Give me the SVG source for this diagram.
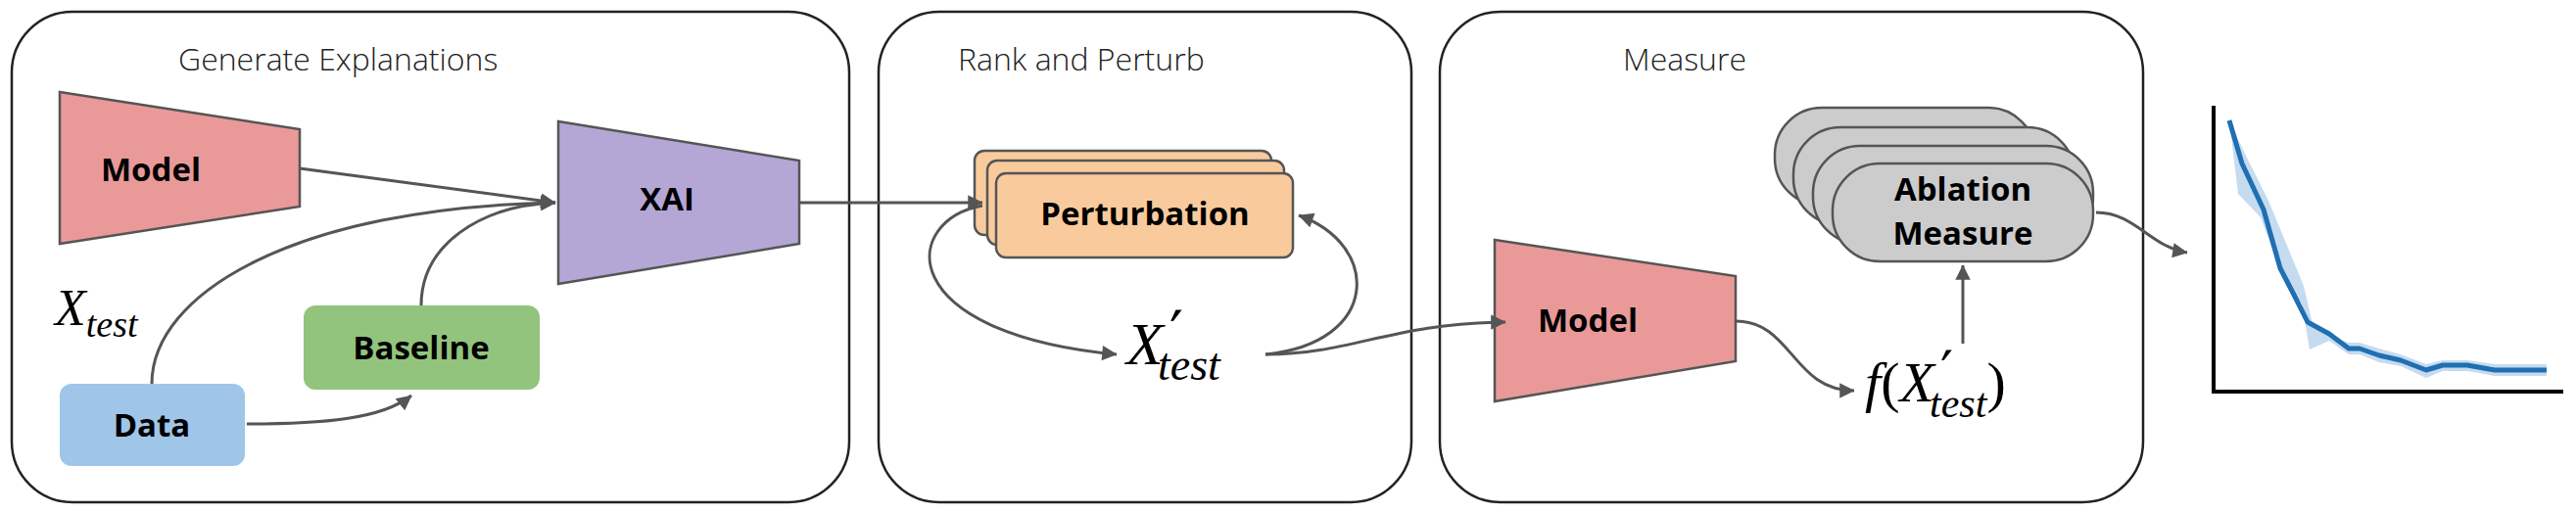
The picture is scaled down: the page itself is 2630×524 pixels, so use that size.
<svg xmlns="http://www.w3.org/2000/svg" width="2630" height="524" viewBox="0 0 2630 524">
<style>
.panel{fill:#fff;stroke:#222;stroke-width:2.5}
.title{font-family:"Open Sans","DejaVu Sans",sans-serif;font-weight:300;font-size:32px;fill:#222}
.lbl{font-family:"Open Sans","DejaVu Sans",sans-serif;font-weight:700;font-size:33px;fill:#000;text-anchor:middle}
.node{stroke:#555;stroke-width:2.5}
.math{font-family:"Liberation Serif","DejaVu Serif",serif;font-style:italic;fill:#000}
.c{fill:none;stroke:#555;stroke-width:3}
</style>
<defs>
<marker id="ah" viewBox="0 0 10 10" refX="9" refY="5" markerWidth="7" markerHeight="7" markerUnits="userSpaceOnUse" orient="auto" style="overflow:visible">
<path d="M0,0 L10,5 L0,10 z" fill="#555" transform="scale(2.2) translate(-5.5,-2.7)"/>
</marker>
</defs>
<g id="panel-generate"><rect class="panel" x="12" y="12" width="855" height="501" rx="62"/><text class="title" x="182" y="72">Generate Explanations</text></g>
<g id="panel-rank"><rect class="panel" x="897" y="12" width="544" height="501" rx="62"/><text class="title" x="978" y="72">Rank and Perturb</text></g>
<g id="panel-measure"><rect class="panel" x="1470" y="12" width="718" height="501" rx="62"/><text class="title" x="1657" y="72">Measure</text></g>

<g id="model1"><polygon class="node" fill="#ea9999" points="61,94 306,132 306,211 61,249"/><text class="lbl" x="154" y="185">Model</text></g>
<g id="xai"><polygon class="node" fill="#b4a7d6" points="570,124 816,164 816,249 570,290"/><text class="lbl" x="681" y="215">XAI</text></g>
<g id="data"><rect fill="#9fc5e8" x="61" y="392" width="189" height="84" rx="12"/><text class="lbl" x="155" y="446">Data</text></g>
<g id="baseline"><rect fill="#93c47d" x="310" y="312" width="241" height="86" rx="12"/><text class="lbl" x="430" y="367">Baseline</text></g>
<g id="xtest-label"><text class="math" x="56" y="332" font-size="52">X<tspan font-size="38" dy="12">test</tspan></text></g>

<g id="perturbation">
<rect class="node" fill="#f9cb9c" x="995" y="154" width="303" height="86" rx="10"/>
<rect class="node" fill="#f9cb9c" x="1008" y="164" width="303" height="86" rx="10"/>
<rect class="node" fill="#f9cb9c" x="1017" y="177" width="303" height="86" rx="10"/>
<text class="lbl" x="1169" y="230">Perturbation</text></g>
<g id="xtest-prime"><text class="math" x="1150" y="372" font-size="62">X<tspan font-size="62" dx="6" dy="-10" font-family="DejaVu Serif" font-style="normal">′</tspan><tspan font-size="46" dx="-26" dy="26">test</tspan></text></g>

<g id="model2"><polygon class="node" fill="#ea9999" points="1526,245 1772,282 1772,369 1526,410"/><text class="lbl" x="1621" y="339">Model</text></g>
<g id="fx"><text class="math" x="1904" y="410" font-size="58">f<tspan font-style="normal">(</tspan>X<tspan font-size="58" dx="6" dy="-10" font-family="DejaVu Serif" font-style="normal">′</tspan><tspan font-size="42" dx="-24" dy="26">test</tspan><tspan font-style="normal" dy="-16">)</tspan></text></g>
<g id="ablation">
<rect class="node" fill="#cccccc" x="1812" y="110" width="266" height="100" rx="48"/>
<rect class="node" fill="#cccccc" x="1831" y="130" width="287" height="100" rx="48"/>
<rect class="node" fill="#cccccc" x="1851" y="149" width="286" height="100" rx="48"/>
<rect class="node" fill="#cccccc" x="1871" y="167" width="266" height="100" rx="48"/>
<text class="lbl" x="2004" y="205">Ablation</text><text class="lbl" x="2004" y="250">Measure</text></g>

<g id="chart">
<polygon fill="#9ec3e6" fill-opacity="0.6" points="2276,123 2291,155 2316,205 2338,258 2352,292 2362,335 2383,345 2398,350 2409,350 2429,356 2451,362 2477,372 2494,368 2519,368 2547,372 2600,372 2600,384 2547,384 2519,379 2494,379 2477,386 2451,374 2429,370 2409,362 2398,362 2378,348 2358,357 2350,310 2332,285 2308,222 2285,198 2276,123"/>
<polyline fill="none" stroke="#1f6fb2" stroke-width="5" stroke-linejoin="round" points="2276,123 2289,167 2311,214 2328,274 2342,301 2356,329 2378,341 2398,356 2409,356 2429,363 2451,368 2477,378 2494,373 2519,373 2547,378 2600,378"/>
<path d="M2260,108 V400 H2617" fill="none" stroke="#000" stroke-width="4"/>
</g>

<g id="connectors">
<path class="c" marker-end="url(#ah)" d="M306,172 L567,207"/>
<path class="c" marker-end="url(#ah)" d="M155,392 C155,300 300,212 567,207"/>
<path class="c" marker-end="url(#ah)" d="M430,312 C430,250 490,210 567,207"/>
<path class="c" marker-end="url(#ah)" d="M252,433 C330,433 390,428 420,404"/>
<path class="c" marker-end="url(#ah)" d="M816,207 L1003,207"/>
<path class="c" marker-end="url(#ah)" d="M1003,210 C920,225 910,340 1140,362"/>
<path class="c" marker-end="url(#ah)" d="M1292,362 C1410,350 1410,250 1326,220"/>
<path class="c" marker-end="url(#ah)" d="M1292,362 C1380,362 1420,330 1537,329"/>
<path class="c" marker-end="url(#ah)" d="M1772,328 C1830,328 1830,399 1893,399"/>
<path class="c" marker-end="url(#ah)" d="M2004,351 L2004,271"/>
<path class="c" marker-end="url(#ah)" d="M2140,217 C2180,217 2195,252 2233,258"/>
</g>
</svg>
